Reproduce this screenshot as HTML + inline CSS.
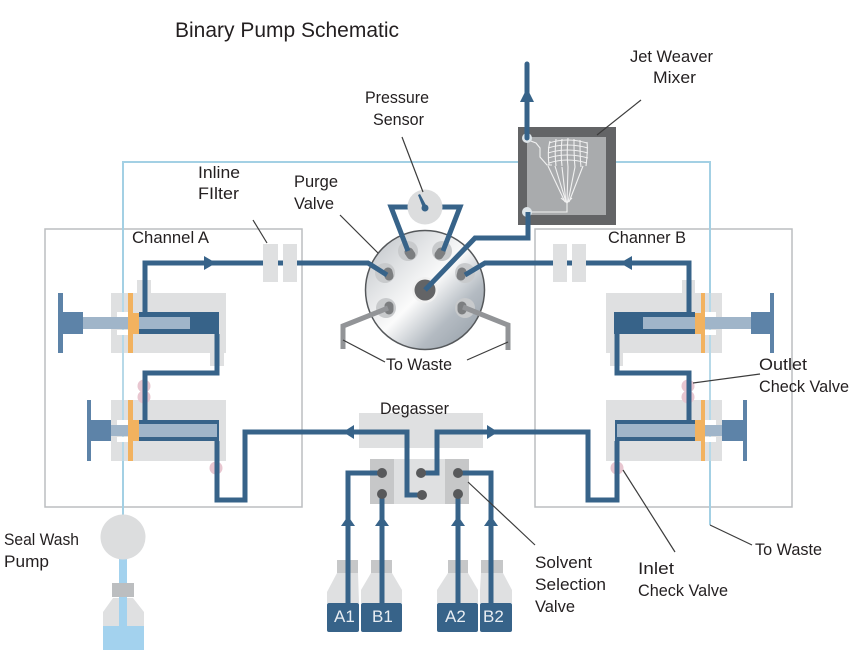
<!DOCTYPE html>
<html><head><meta charset="utf-8"><style>html,body{margin:0;padding:0;background:#fff}svg{display:block}text{font-family:"Liberation Sans",sans-serif;fill:#231f20;font-size:17px}</style></head>
<body>
<svg width="856" height="650" viewBox="0 0 856 650" xmlns="http://www.w3.org/2000/svg">
<defs>
<linearGradient id="m" x1="0" y1="0" x2="1" y2="1">
<stop offset="0" stop-color="#b9bdc2"/><stop offset=".3" stop-color="#e2e4e6"/><stop offset=".5" stop-color="#fbfbfb"/><stop offset=".72" stop-color="#b4bbc2"/><stop offset="1" stop-color="#8f99a3"/>
</linearGradient>
</defs>

<text x="175" y="37" style="font-size:21px" textLength="224" lengthAdjust="spacingAndGlyphs">Binary Pump Schematic</text>

<!-- channel boxes -->
<rect x="45" y="229" width="257" height="278" fill="none" stroke="#bcbec0" stroke-width="1.5"/>
<rect x="535" y="229" width="257" height="278" fill="none" stroke="#bcbec0" stroke-width="1.5"/>

<!-- seal wash loop -->
<polyline points="123,515 123,162 710,162 710,525" fill="none" stroke="#a3d0e4" stroke-width="2"/>

<!-- syringe blocks -->
<g fill="#dfe0e1">
<rect x="111" y="293" width="115" height="60"/><rect x="137" y="280" width="14" height="13"/><rect x="210" y="353" width="14" height="13"/>
<rect x="111" y="400" width="115" height="61"/>
<rect x="606" y="293" width="116" height="60"/><rect x="682" y="280" width="13" height="13"/><rect x="610" y="353" width="13" height="13"/>
<rect x="606" y="400" width="116" height="61"/>
</g>
<line x1="123" y1="293" x2="123" y2="461" stroke="#b7d9e8" stroke-width="2"/>
<line x1="710" y1="293" x2="710" y2="461" stroke="#b7d9e8" stroke-width="2"/>
<!-- white gaps -->
<g fill="#fff">
<rect x="117" y="312" width="11" height="5"/><rect x="117" y="330" width="11" height="5"/>
<rect x="117" y="420" width="11" height="5"/><rect x="117" y="437" width="11" height="5"/>
<rect x="705" y="312" width="11" height="5"/><rect x="705" y="330" width="11" height="5"/>
<rect x="705" y="420" width="11" height="5"/><rect x="705" y="437" width="11" height="5"/>
</g>
<!-- pink check valves -->
<g fill="#e8c6d0">
<circle cx="144" cy="386" r="6.5"/><circle cx="144" cy="397" r="6.5"/><circle cx="216" cy="468" r="6.5"/>
<circle cx="688" cy="386" r="6.5"/><circle cx="688" cy="397" r="6.5"/><circle cx="617" cy="468" r="6.5"/>
</g>
<!-- pistons and plungers -->
<g fill="#5d83a8">
<rect x="58" y="293" width="5" height="60"/><rect x="63" y="312" width="20" height="22"/>
<rect x="87" y="400" width="4" height="61"/><rect x="91" y="420" width="20" height="21"/>
<rect x="770" y="293" width="4" height="60"/><rect x="751" y="312" width="20" height="22"/>
<rect x="743" y="400" width="4" height="61"/><rect x="722" y="420" width="21" height="21"/>
</g>
<g fill="#a0b5c9">
<rect x="83" y="317" width="45" height="12"/><rect x="111" y="425" width="17" height="11"/>
<rect x="705" y="317" width="46" height="12"/><rect x="705" y="425" width="17" height="11"/>
</g>
<!-- cylinders -->
<g fill="#376389">
<rect x="139" y="312" width="80" height="22"/><rect x="139" y="420" width="80" height="21"/>
<rect x="614" y="312" width="81" height="22"/><rect x="615" y="420" width="80" height="21"/>
</g>
<g fill="#a0b5c9">
<rect x="139" y="317" width="51" height="12"/><rect x="139" y="424" width="78" height="13"/>
<rect x="643" y="317" width="52" height="12"/><rect x="617" y="424" width="78" height="13"/>
</g>
<!-- orange seals -->
<g fill="#f2b25f">
<rect x="128" y="293" width="5" height="60"/><rect x="128" y="313" width="11" height="21"/>
<rect x="128" y="400" width="5" height="61"/><rect x="128" y="420" width="11" height="21"/>
<rect x="701" y="293" width="4" height="60"/><rect x="695" y="313" width="10" height="21"/>
<rect x="701" y="400" width="4" height="61"/><rect x="695" y="420" width="10" height="21"/>
</g>

<!-- filters -->
<g fill="#dfe0e1">
<rect x="263" y="244" width="15" height="38"/><rect x="283" y="244" width="14" height="38"/>
<rect x="553" y="244" width="14" height="38"/><rect x="572" y="244" width="14" height="38"/>
</g>

<!-- degasser / selection valve -->
<rect x="359" y="413" width="124" height="35" fill="#dfe0e1"/>
<rect x="370" y="459" width="99" height="45" fill="#dfe0e1"/>
<rect x="370" y="459" width="24" height="45" fill="#c6c7c8"/>
<rect x="445" y="459" width="24" height="45" fill="#c6c7c8"/>

<!-- bottles -->
<g fill="#dfe0e1">
<polygon points="337,573 358,573 359,603 327,603 327,592"/>
<polygon points="371,573 392,573 402,590 402,603 361,603 361,590"/>
<polygon points="448,573 468,573 478,590 478,603 437,603 437,590"/>
<polygon points="481,573 503,573 512,590 512,603 480,603 480,590"/>
<polygon points="113,598 133,598 144,612 144,626 103,626 103,612"/>
</g>
<g fill="#376389">
<rect x="327" y="603" width="32" height="29" rx="2"/><rect x="361" y="603" width="41" height="29" rx="2"/>
<rect x="437" y="603" width="41" height="29" rx="2"/><rect x="480" y="603" width="32" height="29" rx="2"/>
</g>
<g fill="#c6c7c8">
<rect x="337" y="560" width="21" height="13"/><rect x="371" y="560" width="21" height="13"/>
<rect x="448" y="560" width="20" height="13"/><rect x="481" y="560" width="22" height="13"/>
</g>
<text x="334" y="622" style="fill:#e8edf2;font-size:17px">A1</text>
<text x="372" y="622" style="fill:#e8edf2;font-size:17px">B1</text>
<text x="445" y="622" style="fill:#e8edf2;font-size:17px">A2</text>
<text x="483" y="622" style="fill:#e8edf2;font-size:17px">B2</text>

<!-- seal wash pump -->
<rect x="103" y="626" width="41" height="24" fill="#a3d2ee"/>
<rect x="119" y="556" width="8" height="70" fill="#a3d2ee"/>
<circle cx="123" cy="537" r="22.5" fill="#dcddde"/>
<rect x="112" y="583" width="22" height="14" fill="#bcbec0"/>

<!-- mixer -->
<rect x="518" y="127" width="98" height="98" fill="#636466"/>
<rect x="527" y="137" width="79" height="78" fill="#a9abad"/>
<g fill="none" stroke="#f1f1f1" stroke-width="1.1">
<polyline points="528,140 536,143 540,148 540,157 547,165 552,165"/>
<polyline points="528,212 567,212 567,203"/>
<path d="M548,166 L565,202 M555,166 L566,202 M562,167 L566,202 M568,167 L567,202 M575,167 L568,202 M583,166 L569,202 M561,198 L567,203 L572,198"/>
<path d="M550,141 C548,148 548,158 549,165 M556,139 C555,148 555,158 556,166 M562,139 C561,148 561,158 562,166 M568,138 C567,148 567,158 568,167 M574,139 C574,148 574,158 575,167 M580,140 C580,148 580,158 581,167 M587,142 C588,150 587,158 586,166"/>
<path d="M549,143 Q567,137 587,143 M548,148 Q567,142 588,148 M548,153 Q567,147 588,153 M548,158 Q567,152 588,158 M549,163 Q567,157 587,163"/>
</g>
<circle cx="527" cy="138" r="5" fill="#dfe6ea"/>
<circle cx="527" cy="212" r="5" fill="#dfe6ea"/>

<!-- valve -->
<circle cx="425" cy="290" r="59.5" fill="url(#m)" stroke="#55585b" stroke-width="1.5"/>
<g fill="#c8cacc">
<circle cx="408" cy="251" r="10"/><circle cx="442" cy="251" r="10"/>
<circle cx="385" cy="273" r="10"/><circle cx="465" cy="273" r="10"/>
<circle cx="386" cy="308" r="10"/><circle cx="465" cy="308" r="10"/>
</g>
<g stroke="#7c7e80" stroke-width="9" stroke-linecap="round">
<line x1="409" y1="252" x2="411" y2="255"/>
<line x1="441" y1="252" x2="439" y2="255"/>
<line x1="388" y1="272" x2="389" y2="276"/>
<line x1="462" y1="272" x2="461" y2="276"/>
<line x1="389" y1="306" x2="389" y2="310"/>
<line x1="462" y1="306" x2="462" y2="310"/>
</g>
<circle cx="425" cy="290" r="13" fill="#f0f0f0"/>
<circle cx="425" cy="290" r="10.5" fill="#636466"/>

<!-- waste tubes -->
<g fill="none" stroke="#929497" stroke-width="5">
<polyline points="388,308 343,326 343,349"/>
<polyline points="463,307 508,325 508,350"/>
</g>

<!-- main blue tubing -->
<g fill="none" stroke="#376389" stroke-width="5">
<polyline points="145,313 145,263 263,263"/>
<line x1="278" y1="263" x2="283" y2="263"/>
<polyline points="297,263 368,263 387,275"/>
<polyline points="465,275 485,263 553,263"/>
<line x1="567" y1="263" x2="572" y2="263"/>
<polyline points="586,263 689,263 689,313"/>
<polyline points="217,334 217,373 145,373 145,420"/>
<polyline points="617,334 617,373 689,373 689,420"/>
<polyline points="217,441 217,500 245,500 245,432 407,432 407,495 421,495"/>
<polyline points="617,441 617,500 588,500 588,432 437,432 437,473 421,473"/>
<polyline points="382,473 348,473 348,603"/>
<line x1="382" y1="494" x2="382" y2="603"/>
<line x1="458" y1="494" x2="458" y2="603"/>
<polyline points="458,473 491,473 491,603"/>
<polyline points="409,207 391,207 408,251"/>
<polyline points="441,207 460,207 443,251"/>
<polyline points="425,290 475,238 528,238 528,212"/>
<line x1="527" y1="138" x2="527" y2="64" stroke-linecap="round"/>
</g>

<!-- sensor -->
<circle cx="425" cy="207" r="17.5" fill="#dcddde"/>

<!-- arrowheads -->
<g fill="#376389">
<polygon points="204,256 216,263 204,270"/>
<polygon points="632,256 620,263 632,270"/>
<polygon points="354,425 343,432 354,439"/>
<polygon points="487,425 498,432 487,439"/>
<polygon points="527,88 534,102 520,102"/>
<polygon points="348,516 355,526 341,526"/>
<polygon points="382,516 389,526 375,526"/>
<polygon points="458,516 465,526 451,526"/>
<polygon points="491,516 498,526 484,526"/>
</g>

<!-- dots -->
<g fill="#58595b">
<circle cx="382" cy="473" r="5"/><circle cx="382" cy="494" r="5"/>
<circle cx="421" cy="473" r="5"/><circle cx="422" cy="495" r="5"/>
<circle cx="458" cy="473" r="5"/><circle cx="458" cy="494" r="5"/>
</g>
<circle cx="425" cy="208" r="3.5" fill="#376389"/>
<polygon points="418,195 420,194 427,207 423,208" fill="#376389"/>

<!-- leaders -->
<g stroke="#3c3c3c" stroke-width="1.2" fill="none">
<line x1="402" y1="137" x2="423" y2="192"/>
<line x1="340" y1="215" x2="378" y2="253"/>
<line x1="597" y1="135" x2="641" y2="100"/>
<line x1="253" y1="220" x2="267" y2="243"/>
<line x1="468" y1="482" x2="535" y2="545"/>
<line x1="623" y1="470" x2="675" y2="552"/>
<line x1="693" y1="383" x2="760" y2="374"/>
<line x1="343" y1="340" x2="385" y2="362"/>
<line x1="508" y1="342" x2="467" y2="360"/>
<line x1="710" y1="525" x2="752" y2="545"/>
</g>

<!-- labels -->
<g lengthAdjust="spacingAndGlyphs">
<text x="630" y="62" textLength="83" lengthAdjust="spacingAndGlyphs">Jet Weaver</text>
<text x="653" y="83" textLength="43" lengthAdjust="spacingAndGlyphs">Mixer</text>
<text x="365" y="103" textLength="64" lengthAdjust="spacingAndGlyphs">Pressure</text>
<text x="373" y="125" textLength="51" lengthAdjust="spacingAndGlyphs">Sensor</text>
<text x="198" y="178" textLength="42" lengthAdjust="spacingAndGlyphs">Inline</text>
<text x="198" y="199" textLength="41" lengthAdjust="spacingAndGlyphs">FIlter</text>
<text x="294" y="187" textLength="44" lengthAdjust="spacingAndGlyphs">Purge</text>
<text x="294" y="209" textLength="40" lengthAdjust="spacingAndGlyphs">Valve</text>
<text x="132" y="243" textLength="77" lengthAdjust="spacingAndGlyphs">Channel A</text>
<text x="608" y="243" textLength="78" lengthAdjust="spacingAndGlyphs">Channer B</text>
<text x="386" y="370" textLength="66" lengthAdjust="spacingAndGlyphs">To Waste</text>
<text x="380" y="414" textLength="69" lengthAdjust="spacingAndGlyphs">Degasser</text>
<text x="759" y="370" textLength="48" lengthAdjust="spacingAndGlyphs">Outlet</text>
<text x="759" y="392" textLength="90" lengthAdjust="spacingAndGlyphs">Check Valve</text>
<text x="4" y="545" textLength="75" lengthAdjust="spacingAndGlyphs">Seal Wash</text>
<text x="4" y="567" textLength="45" lengthAdjust="spacingAndGlyphs">Pump</text>
<text x="535" y="568" textLength="57" lengthAdjust="spacingAndGlyphs">Solvent</text>
<text x="535" y="590" textLength="71" lengthAdjust="spacingAndGlyphs">Selection</text>
<text x="535" y="612" textLength="40" lengthAdjust="spacingAndGlyphs">Valve</text>
<text x="638" y="574" textLength="36" lengthAdjust="spacingAndGlyphs">Inlet</text>
<text x="638" y="596" textLength="90" lengthAdjust="spacingAndGlyphs">Check Valve</text>
<text x="755" y="555" textLength="67" lengthAdjust="spacingAndGlyphs">To Waste</text>
</g>
</svg>
</body></html>
